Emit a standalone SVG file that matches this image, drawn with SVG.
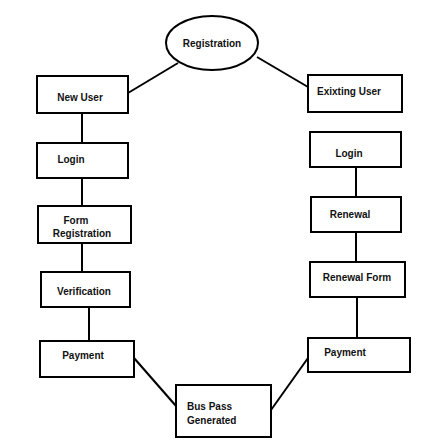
<svg xmlns="http://www.w3.org/2000/svg" width="444" height="444" viewBox="0 0 444 444">
<style>
.n{fill:#fff;stroke:#000;stroke-width:2}
.t{font-family:"Liberation Sans",Arial,sans-serif;font-weight:bold;font-size:10px;fill:#111}
.c{stroke:#000;stroke-width:2;fill:none}
</style>
<rect width="444" height="444" fill="#fff"/>
<g id="connectors">
<line class="c" x1="178" y1="63" x2="128" y2="93"/>
<line class="c" x1="257" y1="57" x2="308" y2="87"/>
<line class="c" x1="82" y1="113" x2="82" y2="143"/>
<line class="c" x1="82" y1="178" x2="82" y2="206"/>
<line class="c" x1="82" y1="243" x2="82" y2="272"/>
<line class="c" x1="89" y1="307" x2="89" y2="341"/>
<line class="c" x1="134" y1="358" x2="176" y2="406"/>
<line class="c" x1="271" y1="410" x2="308" y2="358"/>
<line class="c" x1="356" y1="167" x2="356" y2="197"/>
<line class="c" x1="356" y1="232" x2="356" y2="262"/>
<line class="c" x1="357" y1="297" x2="357" y2="338"/>
</g>
<g id="registration">
<ellipse class="n" cx="212" cy="43" rx="46" ry="27"/>
<text class="t" x="212" y="47" text-anchor="middle">Registration</text>
</g>
<g id="new-user">
<rect class="n" x="37" y="76" width="91" height="37"/>
<text class="t" x="80" y="101" text-anchor="middle">New User</text>
</g>
<g id="login-left">
<rect class="n" x="37" y="143" width="91" height="35"/>
<text class="t" x="71" y="163" text-anchor="middle">Login</text>
</g>
<g id="form-registration">
<rect class="n" x="38" y="206" width="93" height="37"/>
<text class="t" x="76" y="224" text-anchor="middle">Form</text>
<text class="t" x="82" y="237" text-anchor="middle">Registration</text>
</g>
<g id="verification">
<rect class="n" x="41" y="272" width="89" height="35"/>
<text class="t" x="84" y="295" text-anchor="middle">Verification</text>
</g>
<g id="payment-left">
<rect class="n" x="40" y="341" width="94" height="36"/>
<text class="t" x="83" y="359" text-anchor="middle">Payment</text>
</g>
<g id="bus-pass">
<rect class="n" x="176" y="385" width="95" height="52"/>
<text class="t" x="187" y="410">Bus Pass</text>
<text class="t" x="187" y="424">Generated</text>
</g>
<g id="existing-user">
<rect class="n" x="308" y="75" width="94" height="37"/>
<text class="t" x="317" y="95">Exixting User</text>
</g>
<g id="login-right">
<rect class="n" x="310" y="132" width="91" height="35"/>
<text class="t" x="349" y="157" text-anchor="middle">Login</text>
</g>
<g id="renewal">
<rect class="n" x="311" y="197" width="90" height="35"/>
<text class="t" x="350" y="218" text-anchor="middle">Renewal</text>
</g>
<g id="renewal-form">
<rect class="n" x="310" y="262" width="95" height="35"/>
<text class="t" x="357" y="281" text-anchor="middle">Renewal Form</text>
</g>
<g id="payment-right">
<rect class="n" x="308" y="338" width="102" height="34"/>
<text class="t" x="345" y="356" text-anchor="middle">Payment</text>
</g>
</svg>
